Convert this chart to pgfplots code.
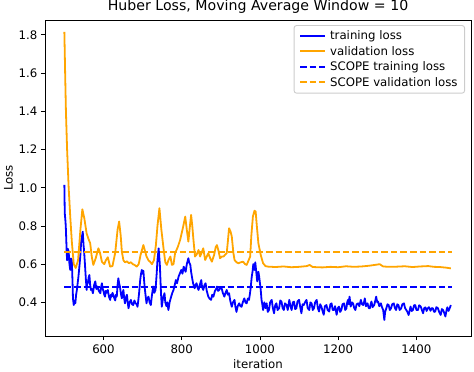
\documentclass[border=0pt]{standalone}
\usepackage{pgfplots}
\pgfplotsset{compat=1.18}
\usepackage{fontspec}
\setmainfont{DejaVu Sans}
\definecolor{mblue}{RGB}{0,0,255}
\definecolor{morange}{RGB}{255,165,0}
\begin{document}
\begin{tikzpicture}
\begin{axis}[
  name=ax,
  scale only axis,
  width=426bp, height=316bp,
  xmin=450.5, xmax=1539.5,
  ymin=0.224, ymax=1.878,
  xtick={600,800,1000,1200,1400},
  ytick={0.4,0.6,0.8,1.0,1.2,1.4,1.6,1.8},
  xticklabel style={yshift=-1bp,/pgf/number format/.cd,set thousands separator={}},
  yticklabel style={/pgf/number format/.cd,fixed,fixed zerofill,precision=1},
  /pgf/number format/assume math mode=true,
  tick align=outside,
  major tick length=4.2bp,
  tick style={black, line width=0.9bp},
  axis line style={line width=0.9bp},
  xtick pos=bottom, ytick pos=left,
  ticklabel style={font=\fontsize{11.8}{14}\selectfont},
  label style={font=\fontsize{11.8}{14}\selectfont},
  title style={font=\fontsize{14.2}{17}\selectfont, yshift=-3bp},
  title={Huber Loss, Moving Average Window = 10},
  xlabel={iteration}, ylabel={Loss},
  xlabel style={yshift=1bp},
  ylabel style={yshift=-1bp},
  legend style={at={(rel axis cs:0.986,0.984)}, anchor=north east,
     draw=black!20, line width=0.9bp, rounded corners=2.5bp, font=\fontsize{11.8}{14}\selectfont,
     row sep=1bp, column sep=2bp, inner xsep=5bp, inner ysep=3.5bp},
  legend cell align=left,
  legend image code/.code={\draw[#1, line width=2bp] (0bp,0.5bp) -- (25bp,0.5bp);},
]
\addplot[mblue, line width=1.8bp, line join=round] coordinates {
(500,1.015)(501,0.867)(503,0.82)(504,0.78)(506,0.66)(507,0.62)(509,0.68)(511,0.665)(513,0.60)(515,0.57)(517,0.63)(519,0.62)(521,0.5)(522,0.42)(524,0.386)(526,0.41)(528,0.395)(530,0.44)(532,0.465)(534,0.50)(536,0.535)(539,0.6)(541,0.65)(543,0.72)(545,0.744)(547,0.77)(549,0.70)(550,0.68)(552,0.62)(553,0.587)(555,0.52)(557,0.465)(559,0.51)(560,0.5)(562,0.53)(564,0.543)(566,0.49)(568,0.465)(570,0.47)(573,0.448)(576,0.49)(579,0.51)(582,0.47)(585,0.483)(588,0.46)(592,0.448)(594,0.48)(596,0.5)(598,0.47)(600,0.46)(602,0.44)(604,0.43)(606,0.46)(608,0.45)(611,0.465)(614,0.43)(617,0.413)(619,0.44)(621,0.43)(623,0.45)(625,0.44)(628,0.42)(630,0.41)(632,0.44)(634,0.43)(636,0.49)(638,0.526)(640,0.50)(642,0.483)(645,0.44)(647,0.421)(649,0.45)(651,0.465)(653,0.42)(655,0.395)(658,0.43)(660,0.44)(662,0.40)(664,0.369)(667,0.40)(670,0.413)(673,0.39)(676,0.386)(679,0.41)(682,0.395)(685,0.39)(687,0.377)(689,0.41)(691,0.448)(694,0.52)(696,0.55)(698,0.57)(700,0.55)(702,0.565)(704,0.51)(706,0.465)(708,0.43)(710,0.395)(712,0.42)(715,0.43)(718,0.40)(721,0.386)(724,0.44)(727,0.483)(730,0.45)(733,0.465)(736,0.55)(738,0.62)(741,0.683)(744,0.6)(747,0.45)(749,0.377)(752,0.42)(756,0.448)(758,0.40)(761,0.38)(763,0.40)(766,0.36)(769,0.40)(773,0.43)(776,0.45)(779,0.465)(782,0.49)(785,0.517)(788,0.50)(792,0.535)(795,0.55)(799,0.57)(802,0.55)(805,0.587)(808,0.57)(810,0.56)(813,0.60)(817,0.631)(819,0.61)(822,0.596)(824,0.56)(826,0.535)(829,0.50)(833,0.474)(835,0.49)(838,0.5)(840,0.48)(843,0.465)(846,0.49)(850,0.517)(852,0.48)(855,0.465)(858,0.49)(861,0.5)(864,0.46)(868,0.43)(871,0.42)(875,0.413)(878,0.44)(881,0.43)(885,0.46)(888,0.47)(890,0.483)(893,0.46)(896,0.465)(899,0.48)(902,0.474)(905,0.45)(909,0.43)(912,0.45)(915,0.465)(918,0.44)(921,0.448)(924,0.41)(928,0.377)(931,0.40)(935,0.413)(937,0.38)(940,0.35)(943,0.38)(947,0.395)(950,0.38)(953,0.377)(956,0.40)(960,0.421)(963,0.40)(966,0.395)(969,0.42)(972,0.413)(974,0.44)(976,0.47)(979,0.535)(981,0.56)(983,0.6)(985,0.596)(986,0.57)(988,0.61)(990,0.57)(991,0.55)(993,0.51)(995,0.55)(996,0.56)(998,0.535)(1000,0.50)(1002,0.465)(1004,0.413)(1006,0.39)
(1008,0.36)(1011,0.40)(1014,0.37)(1017,0.395)(1020,0.35)(1023,0.36)(1026,0.40)(1030,0.413)(1033,0.37)(1036,0.343)(1039,0.385)(1042,0.395)(1045,0.36)(1049,0.369)(1052,0.41)(1055,0.404)(1058,0.37)(1061,0.36)(1064,0.395)(1068,0.386)(1071,0.36)(1075,0.413)(1078,0.38)(1081,0.36)(1084,0.40)(1087,0.404)(1090,0.365)(1093,0.369)(1096,0.405)(1100,0.413)(1103,0.375)(1106,0.343)(1109,0.39)(1112,0.386)(1115,0.40)(1119,0.413)(1122,0.37)(1126,0.36)(1129,0.40)(1132,0.395)(1135,0.36)(1138,0.369)(1141,0.40)(1145,0.413)(1148,0.37)(1151,0.352)(1154,0.39)(1157,0.378)(1160,0.355)(1163,0.335)(1166,0.38)(1170,0.386)(1173,0.36)(1177,0.352)(1180,0.39)(1183,0.395)(1186,0.36)(1189,0.36)(1192,0.38)(1196,0.335)(1199,0.37)(1202,0.378)(1205,0.35)(1208,0.36)(1211,0.39)(1215,0.395)(1218,0.36)(1221,0.369)(1223,0.40)(1225,0.413)(1227,0.39)(1229,0.43)(1232,0.378)(1235,0.40)(1238,0.395)(1241,0.37)(1244,0.36)(1247,0.39)(1251,0.395)(1254,0.38)(1258,0.413)(1261,0.39)(1264,0.386)(1266,0.40)(1268,0.421)(1271,0.38)(1275,0.395)(1278,0.37)(1281,0.369)(1283,0.39)(1285,0.404)(1288,0.375)(1292,0.386)(1295,0.41)(1297,0.43)(1300,0.40)(1302,0.404)(1305,0.38)(1309,0.395)(1312,0.375)(1315,0.36)(1318,0.308)(1320,0.35)(1323,0.369)(1326,0.39)(1329,0.386)(1332,0.36)(1335,0.369)(1338,0.39)(1342,0.395)(1345,0.37)(1348,0.36)(1351,0.39)(1354,0.386)(1357,0.36)(1361,0.369)(1364,0.39)(1368,0.395)(1371,0.37)(1374,0.36)(1377,0.35)(1380,0.334)(1383,0.36)(1385,0.378)(1388,0.355)(1391,0.36)(1394,0.385)(1397,0.386)(1400,0.36)(1404,0.36)(1407,0.385)(1411,0.378)(1414,0.36)(1417,0.343)(1420,0.37)(1423,0.374)(1426,0.355)(1429,0.369)(1432,0.375)(1436,0.356)(1439,0.37)(1442,0.369)(1445,0.35)(1448,0.352)(1451,0.375)(1455,0.369)(1458,0.35)(1462,0.334)(1465,0.365)(1468,0.36)(1471,0.345)(1474,0.326)(1477,0.36)(1479,0.374)(1482,0.355)(1485,0.369)(1488,0.386)
};
\addlegendentry{training loss}
\addplot[morange, line width=1.8bp, line join=round] coordinates {
(500,1.816)(502,1.6)(504,1.4)(507,1.2)(511,1.0)(515,0.85)(519,0.72)(524,0.60)(529,0.58)(535,0.62)(541,0.78)(546,0.887)(551,0.84)(557,0.76)(562,0.73)(566,0.71)(570,0.64)(574,0.596)(580,0.63)(587,0.683)(591,0.66)(596,0.613)(602,0.6)(606,0.62)(611,0.636)(617,0.587)(623,0.59)(630,0.66)(636,0.78)(640,0.823)(644,0.75)(647,0.665)(651,0.62)(655,0.61)(660,0.615)(665,0.605)(670,0.61)(675,0.6)(680,0.595)(685,0.587)(690,0.6)(695,0.65)(702,0.70)(706,0.67)(710,0.64)(715,0.62)(719,0.613)(724,0.6)(729,0.62)(734,0.7)(738,0.8)(743,0.893)(748,0.78)(754,0.674)(758,0.61)(762,0.596)(766,0.62)(771,0.64)(775,0.596)(779,0.6)(783,0.657)(790,0.69)(796,0.727)(803,0.79)(809,0.849)(813,0.78)(817,0.718)(820,0.78)(824,0.858)(827,0.8)(830,0.727)(834,0.64)(838,0.65)(843,0.674)(847,0.64)(851,0.66)(855,0.683)(860,0.622)(864,0.64)(868,0.657)(873,0.63)(877,0.613)(883,0.65)(887,0.69)(890,0.70)(894,0.67)(898,0.631)(903,0.64)(907,0.64)(911,0.65)(915,0.657)(918,0.72)(921,0.788)(925,0.77)(928,0.744)(932,0.66)(935,0.622)(940,0.61)(945,0.605)(951,0.61)(957,0.613)(962,0.6)(966,0.596)(971,0.62)(975,0.64)(978,0.75)(982,0.85)(986,0.88)(989,0.875)(992,0.8)(996,0.709)(1002,0.648)(1008,0.605)(1014,0.59)(1021,0.587)(1040,0.585)(1060,0.588)(1080,0.584)(1100,0.586)(1120,0.59)(1127,0.596)(1135,0.585)(1160,0.583)(1180,0.586)(1200,0.584)(1220,0.589)(1240,0.586)(1260,0.588)(1280,0.592)(1300,0.598)(1306,0.6)(1315,0.588)(1330,0.586)(1350,0.587)(1370,0.589)(1390,0.585)(1410,0.588)(1430,0.59)(1445,0.586)(1460,0.585)(1475,0.582)(1488,0.578)
};
\addlegendentry{validation loss}
\addplot[mblue, line width=1.8bp, dash pattern=on 6.7bp off 2.9bp] coordinates {(500,0.482)(1490,0.482)};
\addlegendentry{SCOPE training loss}
\addplot[morange, line width=1.8bp, dash pattern=on 6.7bp off 2.9bp] coordinates {(500,0.662)(1490,0.662)};
\addlegendentry{SCOPE validation loss}
\end{axis}
\pgfresetboundingbox
\path ([shift={(-45bp,-36bp)}]ax.south west) rectangle ([shift={(3bp,20bp)}]ax.north east);
\end{tikzpicture}
\end{document}
